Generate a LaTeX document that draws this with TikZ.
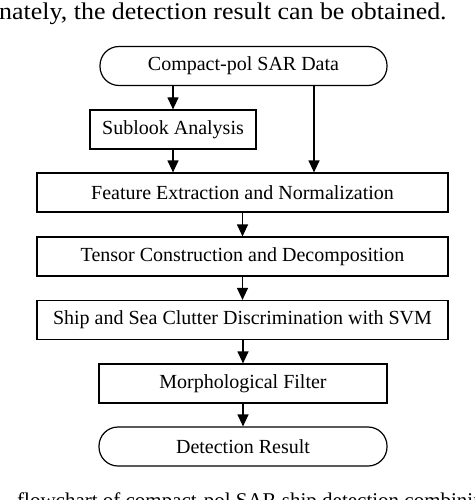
\documentclass[tikz,border=0pt]{standalone}
\usepackage{fontspec}
\setmainfont{Liberation Serif}
\usetikzlibrary{arrows.meta}

\begin{document}
\begin{tikzpicture}[x=1pt,y=-1pt,font=\fontsize{20}{24}\selectfont,
  box/.style={draw,line width=1.2pt,minimum height=39pt,inner sep=0pt},
  term/.style={box,rounded corners=19pt},
  flow/.style={line width=1.2pt,-{Triangle[length=12pt,width=11pt]}}]

\useasboundingbox (0,0) rectangle (474,500);

% surrounding page text
\node[anchor=base west,inner sep=0pt,xscale=1.08,font=\fontsize{24}{28}\selectfont] (above) at (-1,19.5) {nately, the detection result can be obtained.};
\node[anchor=base west,inner sep=0pt,font=\fontsize{21}{25}\selectfont] (below) at (17,507) {flowchart of compact-pol SAR ship detection combining};

\node[term,minimum width=287pt] (data) at (243.5,66) {Compact-pol SAR Data};
\node[box,minimum width=166pt] (sub) at (173,129.5) {Sublook Analysis};
\node[box,minimum width=411pt] (feat) at (242.5,192.5) {Feature Extraction and Normalization};
\node[box,minimum width=411pt] (tens) at (242.5,256.5) {Tensor Construction and Decomposition};
\node[box,minimum width=411pt] (svm) at (242.5,320) {Ship and Sea Clutter Discrimination with SVM};
\node[box,minimum width=288pt] (morph) at (243,383.5) {Morphological Filter};
\node[term,minimum width=288pt] (res) at (243,446.5) {Detection Result};

\coordinate (skip) at (314,0);

\draw[flow] (sub.north |- data.south) -- (sub.north);
\draw[flow] (skip |- data.south) -- (skip |- feat.north);
\draw[flow] (sub.south) -- (sub.south |- feat.north);
\draw[flow] (feat.south -| tens.north) -- (tens.north);
\draw[flow] (tens.south -| svm.north) -- (svm.north);
\draw[flow] (svm.south -| morph.north) -- (morph.north);
\draw[flow] (morph.south) -- (res.north);

\end{tikzpicture}
\end{document}
